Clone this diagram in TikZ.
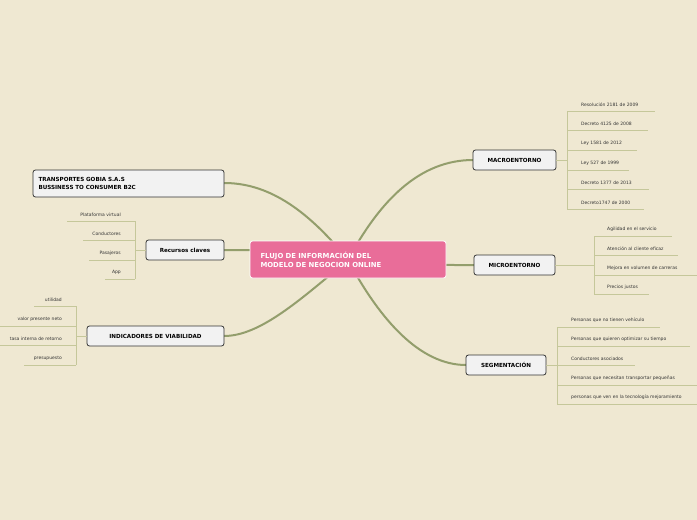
\documentclass[tikz,border=0pt]{standalone}
\usepackage{fontspec}
\setmainfont{DejaVu Sans}
\begin{document}
\begin{tikzpicture}[x=1pt,y=-1pt,
 topic/.style={draw=black!80,line width=0.8pt,fill=gray!10,rounded corners=2.5pt,font=\fontsize{5.6}{7.2}\selectfont\bfseries,inner sep=0pt},
 leaf/.style={font=\fontsize{4.5}{5.5}\selectfont,inner sep=0pt,text=black!80},
 br/.style={draw=brc,line width=2pt,line cap=round},
 tw/.style={draw=lkc,line width=0.6pt},
 lk/.style={draw=lkc,line width=0.4pt}]
\definecolor{bg}{HTML}{EFE8D2}
\definecolor{pk}{HTML}{E96D99}
\definecolor{brc}{HTML}{939E6C}
\definecolor{lkc}{HTML}{C5C79A}
\fill[bg] (0,0) rectangle (697,520);
\useasboundingbox (0,0) rectangle (697,520);
% branches
\coordinate (c) at (348,260);
\draw[br] (c) .. controls (380,200) and (420,160) .. (473,160);
\draw[br] (c) .. controls (400,265) .. (474,265);
\draw[br] (c) .. controls (380,320) and (420,365) .. (466,365);
\draw[br] (c) .. controls (300,200) and (260,183) .. (224,183);
\draw[br] (c) .. controls (300,250) .. (224,250);
\draw[br] (c) .. controls (300,300) and (260,336) .. (224,336);
% central
\node[fill=pk,draw=white,line width=0.8pt,rounded corners=2.5pt,minimum width=196pt,minimum height=37pt,text width=175pt,align=left,text=white,font=\fontsize{6.9}{9}\selectfont\bfseries] (ctr) at (348,259.5) {FLUJO DE INFORMACIÓN DEL\\MODELO DE NEGOCION ONLINE};
% topics
\node[topic,minimum width=191pt,minimum height=27pt,text width=180pt,align=left] (tr) at (128.5,183.5) {TRANSPORTES GOBIA S.A.S\\BUSSINESS TO CONSUMER B2C};
\node[topic,minimum width=78pt,minimum height=20pt] (rc) at (185,250) {Recursos claves};
\node[topic,minimum width=137pt,minimum height=20pt] (iv) at (155.5,336) {INDICADORES DE VIABILIDAD};
\node[topic,minimum width=83pt,minimum height=20pt] (ma) at (514.5,160) {MACROENTORNO};
\node[topic,minimum width=81pt,minimum height=20pt] (mi) at (514.5,265) {MICROENTORNO};
\node[topic,minimum width=80pt,minimum height=20pt] (se) at (506,365) {SEGMENTACIÓN};
% Macro leaves
\draw[tw] (ma.east) -- (567,160);
\draw[lk] (567,111) -- (567,209);
\foreach \t/\y/\w [count=\i] in {Resolución 2181 de 2009/111/88,Decreto 4125 de 2008/130/81,Ley 1581  de 2012/150/70,Ley 527 de 1999/170/62,Decreto 1377 de 2013/189/82,Decreto1747 de 2000/209/77}{
 \node[leaf,anchor=south west] (ma\i) at (581,\y-4) {\t};
 \draw[lk] (567,\y) -- (567+\w,\y);}
% Micro leaves
\draw[tw] (mi.east) -- (594,265);
\draw[lk] (594,236) -- (594,294);
\foreach \t/\y/\w [count=\i] in {Agilidad en el servicio/236/78,Atención al cliente eficaz/255/84,Mejora en volumen de carreras/275/103,Precios justos/294/55}{
 \node[leaf,anchor=south west] (mi\i) at (607,\y-4) {\t};
 \draw[lk] (594,\y) -- (594+\w,\y);}
% Segment leaves
\draw[tw] (se.east) -- (557,365);
\draw[lk] (557,327) -- (557,404);
\foreach \t/\y/\w [count=\i] in {Personas que no tienen vehículo/327/103,Personas que quieren optimizar su tiempo/346/133,Conductores asociados/365/78,Personas que necesitan transportar pequeñas/385/140,personas que ven en la tecnología mejoramiento/404/140}{
 \node[leaf,anchor=south west] (se\i) at (571,\y-4) {\t};
 \draw[lk] (557,\y) -- (557+\w,\y);}
% Recursos leaves
\draw[tw] (rc.west) -- (135,250);
\draw[lk] (135,221) -- (135,279);
\foreach \t/\y/\w [count=\i] in {Plataforma virtual/221/68,Conductores/240/52,Pasajeros/260/46,App/279/30}{
 \node[leaf,anchor=south east] (rc\i) at (121,\y-4) {\t};
 \draw[lk] (135,\y) -- (135-\w,\y);}
% Indicadores leaves
\draw[tw] (iv.west) -- (76,336);
\draw[lk] (76,306) -- (76,365);
\foreach \t/\y/\w [count=\i] in {utilidad/306/42,valor presente neto/326/76,tasa  interna de retorno/345/76,presupuesto/365/52}{
 \node[leaf,anchor=south east] (iv\i) at (62,\y-4) {\t};
 \draw[lk] (76,\y) -- (76-\w,\y);}
\end{tikzpicture}
\end{document}
